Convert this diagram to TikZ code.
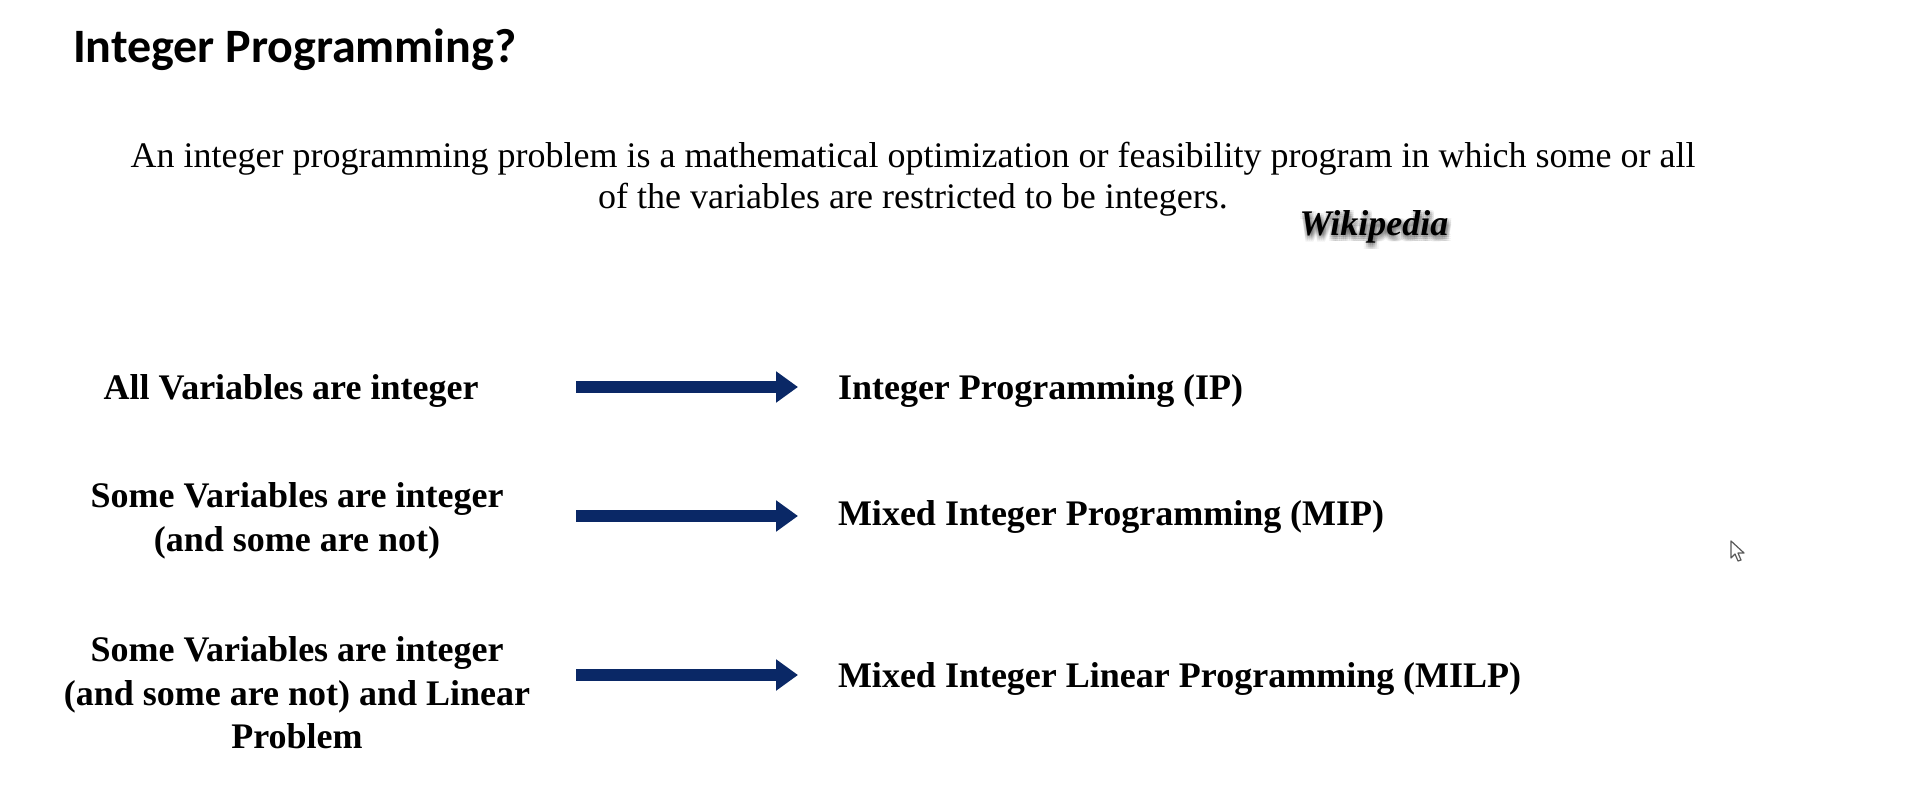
\documentclass[tikz,border=0pt]{standalone}
\usepackage{fontspec}
\setmainfont{Liberation Serif}
\newfontfamily\titlefont{Carlito}
\usetikzlibrary{positioning, arrows.meta}
\definecolor{arrownavy}{RGB}{10,40,102}
\tikzset{
    x=1pt, y=-1pt, % one unit is one pixel of the slide
    every node/.style={inner sep=0pt, outer sep=0pt},
    casetext/.style={font=\fontsize{36}{43.5}\selectfont\bfseries, align=center}, % left hand case
    progtext/.style={font=\fontsize{36}{43.5}\selectfont\bfseries, anchor=west}, % right hand name
    navyarrow/.style={draw=arrownavy, line width=12pt, -{Triangle[length=22pt, width=30pt]}}, % thick arrow
    wikitext/.style={font=\fontsize{36}{36}\selectfont\bfseries\itshape}, % the source
}

\begin{document}
\begin{tikzpicture}
    \useasboundingbox[fill=white] (0,0) rectangle (1920,810);
    \node[anchor=west, font=\titlefont\fontsize{48}{54}\selectfont\bfseries] (title) at (73,50) {Integer Programming?};
    \node[align=center, font=\fontsize{36}{41}\selectfont] (def) at (913,179)
        {An integer programming problem is a mathematical optimization or feasibility program in which some or all\\
         of the variables are restricted to be integers.};
    % shadow of the source
    \foreach \dx in {-2,0,2,4}
        \foreach \dy in {0,2,4,6}
            \node[wikitext, text=black, opacity=0.06] at (1374+\dx,227+\dy) {Wikipedia};
    \node[wikitext] (wiki) at (1374,227) {Wikipedia};
    % the three cases
    \node[casetext] (all) at (291,391) {All Variables are integer};
    \node[casetext] (some) at (297,521) {Some Variables are integer\\(and some are not)};
    \node[casetext] (lin) at (297,693) {Some Variables are integer\\(and some are not) and Linear\\Problem};
    \node[progtext] (ip) at (838,391) {Integer Programming (IP)};
    \node[progtext] (mip) at (838,517) {Mixed Integer Programming (MIP)};
    \node[progtext] (milp) at (838,679) {Mixed Integer Linear Programming (MILP)};
    \coordinate (a1) at (576,387);
    \coordinate (a2) at (576,516);
    \coordinate (a3) at (576,675);
    \draw[navyarrow, shorten >=40pt] (a1) -- (a1 -| ip.west);
    \draw[navyarrow, shorten >=40pt] (a2) -- (a2 -| mip.west);
    \draw[navyarrow, shorten >=40pt] (a3) -- (a3 -| milp.west);
    % mouse pointer
    \draw[gray!70!black, fill=white, line width=1.2pt, line join=round]
        (1731,541) -- (1731,558) -- (1735,554) -- (1738,561) -- (1741,560) -- (1738,553) -- (1744,553) -- cycle;
\end{tikzpicture}
\end{document}
